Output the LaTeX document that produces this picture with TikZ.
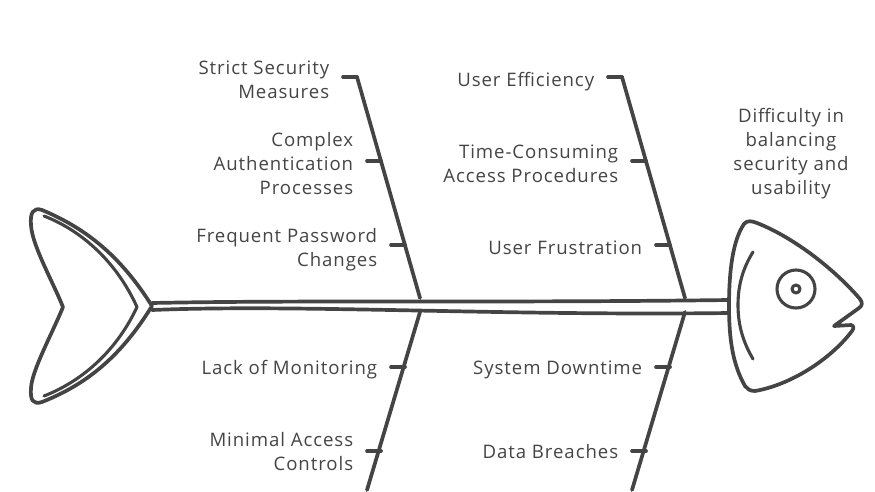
\documentclass[tikz,border=0pt]{standalone}
\usepackage{fontspec}
\setmainfont[LetterSpace=5]{Open Sans}
\usetikzlibrary{positioning}
\definecolor{inkgray}{HTML}{444444}
\tikzset{x=1pt,y=-1pt,
  every path/.style={draw=inkgray,line width=3.7pt,line cap=round,line join=round},
  thin line/.style={line width=3.1pt},
  cause/.style={draw=none,text=inkgray,anchor=east,align=right,inner sep=0pt,inner xsep=12pt,xshift=1pt,yshift=-1pt,font=\fontsize{18.6}{24}\selectfont},
  effect/.style={draw=none,text=inkgray,align=center,inner sep=0pt,yshift=-1pt,font=\fontsize{18.6}{24}\selectfont}}
\begin{document}
\begin{tikzpicture}
            \useasboundingbox[draw=none] (0,0) rectangle (875,492);
            \coordinate (tip) at (152,306);
            \coordinate (neck) at (729,306);

            \node[cause] (n1) at (342,79) {Strict Security\\Measures};
            \node[cause] (n2) at (366,163) {Complex\\Authentication\\Processes};
            \node[cause] (n3) at (390,249) {Frequent Password\\Changes};
            \node[cause] (n4) at (390,369) {Lack of Monitoring};
            \node[cause] (n5) at (366,451) {Minimal Access\\Controls};
            \node[cause] (n6) at (607,81) {User Efficiency};
            \node[cause] (n7) at (631,163) {Time-Consuming\\Access Procedures};
            \node[cause] (n8) at (655,247) {User Frustration};
            \node[cause] (n9) at (655,369) {System Downtime};
            \node[cause] (n10) at (631,451) {Data Breaches};
            \node[effect] (n11) at (791,153) {Difficulty in\\balancing\\security and\\usability};

            \coordinate (b1) at (357,77);
            \coordinate (b2) at (381,161);
            \coordinate (b3) at (405,245);
            \coordinate (b4) at (420,298);
            \coordinate (b5) at (420,312);
            \coordinate (b6) at (405,367);
            \coordinate (b7) at (381,451);
            \coordinate (b8) at (367,490);
            \coordinate (c1) at (622,77);
            \coordinate (c2) at (646,161);
            \coordinate (c3) at (670,245);
            \coordinate (c4) at (685,298);
            \coordinate (c5) at (685,312);
            \coordinate (c6) at (670,367);
            \coordinate (c7) at (646,451);
            \coordinate (c8) at (632,490);

            \draw (b1) -- (b4) (b5) -- (b8) (c1) -- (c4) (c5) -- (c8);
            \draw (n1.east |- b1) -- (b1);
            \draw (n2.east |- b2) -- (b2);
            \draw (n3.east |- b3) -- (b3);
            \draw (n4.east |- b6) -- (b6);
            \draw (n5.east |- b7) -- (b7);
            \draw (n6.east |- c1) -- (c1);
            \draw (n7.east |- c2) -- (c2);
            \draw (n8.east |- c3) -- (c3);
            \draw (n9.east |- c6) -- (c6);
            \draw (n10.east |- c7) -- (c7);

            \draw (tip) ++(0,-3) .. controls (300,300) and (500,303) .. (neck |- 0,300);
            \draw (tip) ++(0,4) .. controls (300,304) and (500,316) .. (neck |- 0,313);

            \draw (tip) .. controls (120,255) and (85,228) .. (42,210)
                  .. controls (33,207) and (30,213) .. (31,225)
                  .. controls (32,245) and (52,280) .. (63,307)
                  .. controls (52,334) and (32,370) .. (31,388)
                  .. controls (30,400) and (33,405) .. (42,402)
                  .. controls (85,385) and (120,358) .. (tip);
            \draw[thin line] (44,216) .. controls (85,232) and (118,265) .. (137,307)
                  .. controls (118,348) and (85,380) .. (44,396);

            \draw (729,306) .. controls (729,270) and (733,240) .. (744,224)
                  .. controls (747,220) and (752,221) .. (757,223)
                  .. controls (795,238) and (835,270) .. (860,299)
                  .. controls (863,303) and (862,306) .. (859,308)
                  -- (834,326) -- (851,325)
                  .. controls (854,326) and (854,328) .. (852,331)
                  .. controls (830,360) and (790,385) .. (755,391)
                  .. controls (750,391) and (747,389) .. (745,386)
                  .. controls (733,365) and (729,340) .. (729,306);
            \draw[thin line] (753,252) .. controls (743,268) and (738,285) .. (738,305)
                  .. controls (738,325) and (743,342) .. (753,359);
            \draw[thin line] (796,289) circle (19);
            \draw[thin line] (796,289) circle (4);
        \end{tikzpicture}
\end{document}
